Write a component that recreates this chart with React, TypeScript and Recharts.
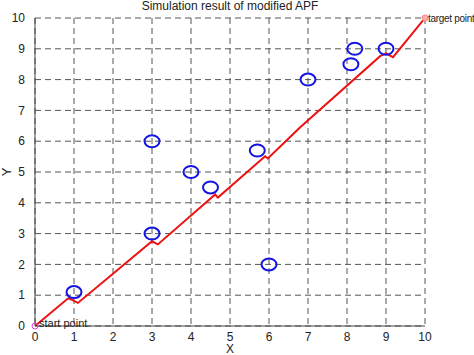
import {
  ComposedChart,
  Line,
  Scatter,
  XAxis,
  YAxis,
  CartesianGrid,
  ReferenceDot,
} from "recharts";

const ticks = [0, 1, 2, 3, 4, 5, 6, 7, 8, 9, 10];

// obstacles (blue circles)
const obstacleX = [1, 3, 3, 4, 4.5, 5.7, 6, 7, 8.1, 8.2, 9];
const obstacleY = [1.1, 3, 6, 5, 4.5, 5.7, 2, 8, 8.5, 9, 9];

// robot path from start to target
const pathX = [0, 0.85, 0.95, 1.1, 2.1, 3.0, 3.15, 4.62, 4.69, 5.9, 5.97, 6.8, 8.85, 9.0, 9.18, 10];
const pathY = [0, 0.9, 0.85, 0.75, 1.8, 2.75, 2.65, 4.27, 4.17, 5.51, 5.44, 6.45, 8.76, 8.85, 8.73, 10];

const obstacles = obstacleX.map((x, i) => ({ x, y: obstacleY[i] }));
const path = pathX.map((x, i) => ({ x, y: pathY[i] }));

const Ring = (props: any) => {
  const { cx, cy } = props;
  return <ellipse cx={cx} cy={cy} rx={7.5} ry={6} fill="none" stroke="#1515e0" strokeWidth={2} />;
};

const font = "'Liberation Sans', Arial, sans-serif";

export default function App() {
  return (
    <div style={{ position: "absolute", left: 0, top: 0, width: 474, height: 355, background: "#fff", fontFamily: font }}>
      <div
        style={{
          position: "absolute",
          top: 0,
          left: 0,
          width: 460,
          textAlign: "center",
          fontSize: 12,
          lineHeight: "13px",
          color: "#222",
        }}
      >
        Simulation result of modified APF
      </div>
      <div style={{ position: "absolute", left: 226, top: 343, fontSize: 12, lineHeight: "12px", color: "#222" }}>X</div>
      <div
        style={{
          position: "absolute",
          left: 3,
          top: 165,
          fontSize: 13,
          lineHeight: "14px",
          color: "#222",
          transform: "rotate(-90deg)",
        }}
      >
        Y
      </div>
      <ComposedChart width={474} height={355} margin={{ top: 18, right: 49, left: 0, bottom: 0 }}>
        <CartesianGrid stroke="#555" strokeDasharray="6 4" horizontalValues={ticks} verticalValues={ticks} />
        <XAxis
          type="number"
          dataKey="x"
          domain={[0, 10]}
          ticks={ticks}
          height={29}
          tickLine={false}
          axisLine={{ stroke: "#444" }}
          tick={{ fontSize: 12, fill: "#222", fontFamily: font }}
          tickMargin={0}
          allowDataOverflow
        />
        <YAxis
          type="number"
          dataKey="y"
          domain={[0, 10]}
          ticks={ticks}
          width={35}
          tickLine={false}
          axisLine={{ stroke: "#444" }}
          tick={{ fontSize: 12, fill: "#222", fontFamily: font }}
          tickMargin={4}
          allowDataOverflow
        />
        <Scatter data={obstacles} dataKey="y" shape={<Ring />} isAnimationActive={false} />
        <Line
          data={path}
          dataKey="y"
          type="linear"
          stroke="#ee1111"
          strokeWidth={2}
          dot={false}
          isAnimationActive={false}
        />
        <ReferenceDot
          x={0}
          y={0}
          r={3}
          fill="none"
          stroke="#e040e0"
          ifOverflow="visible"
          label={{ value: "start point", position: "right", fontSize: 11, fill: "#222", dy: -3, offset: 1 }}
        />
        <ReferenceDot
          x={10}
          y={10}
          r={3}
          fill="#ffb0b0"
          stroke="#ff8080"
          ifOverflow="visible"
          label={{ value: "target point", position: "right", fontSize: 10, fill: "#222", offset: 0, letterSpacing: -0.3 }}
        />
      </ComposedChart>
    </div>
  );
}
